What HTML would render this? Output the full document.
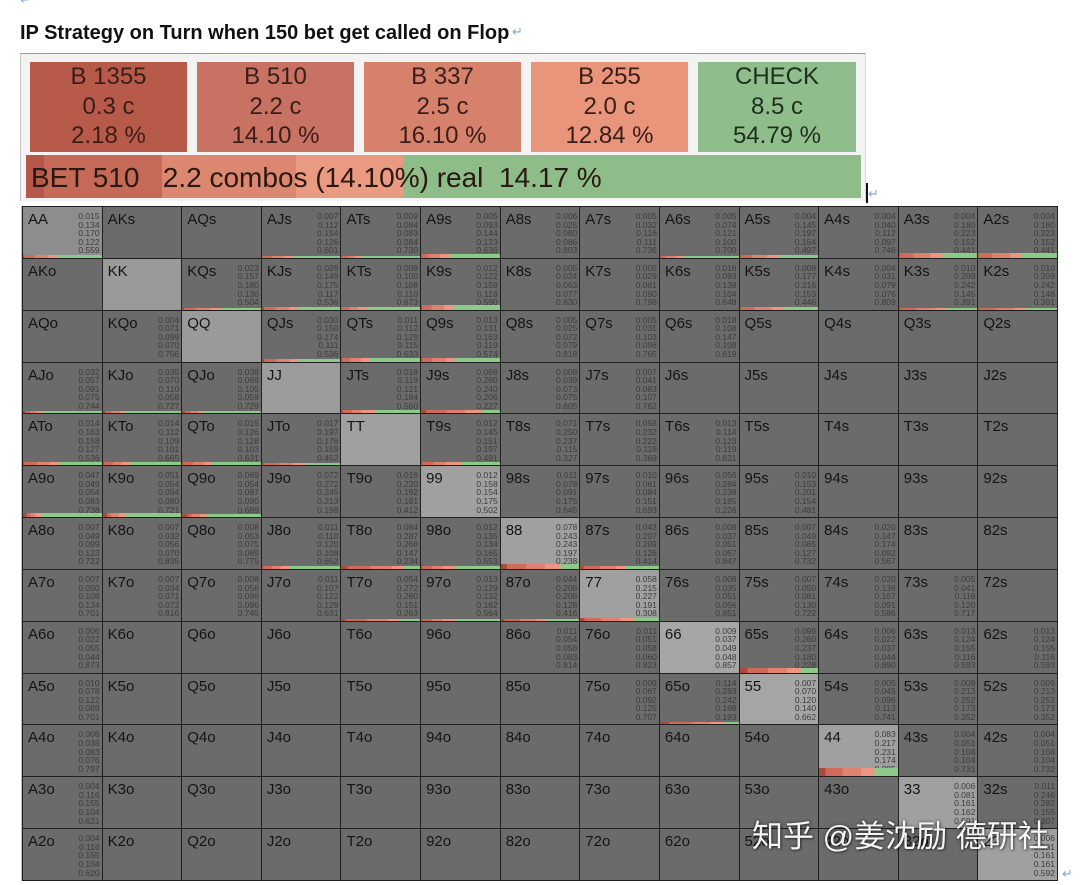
<!DOCTYPE html>
<html><head><meta charset="utf-8">
<style>
html,body{margin:0;padding:0;background:#fff;}
body{width:1080px;height:885px;position:relative;overflow:hidden;font-family:"Liberation Sans",sans-serif;}
.ret{position:absolute;color:#7ea9d9;font:13px/14px "DejaVu Sans",sans-serif;}
.title{position:absolute;left:20px;top:21px;font:bold 20px/24px "Liberation Sans",sans-serif;color:#111;white-space:nowrap;}
.panel{position:absolute;left:20px;top:53px;width:846px;height:148px;background:#f3f3f3;border-top:1px solid #9a9a9a;border-left:1px solid #c4c4c4;border-right:1px solid #d8d8d8;box-sizing:border-box;}
.box{position:absolute;top:62px;height:90px;width:157px;text-align:center;font:24px/29.5px "Liberation Sans",sans-serif;color:#3a1d17;}
.bar{position:absolute;left:26px;top:155px;width:835px;height:43px;background:linear-gradient(90deg,#b5574a 0 18px,#c66a58 0 136px,#dc8770 0 270px,#ea9a80 0 377px,#8fbd89 0);}
.bartxt{position:absolute;left:31px;top:156px;font:28px/43px "Liberation Sans",sans-serif;color:#2a1812;white-space:pre;}
.cursor{position:absolute;left:866px;top:183px;width:2px;height:20px;background:#111;}
.g{position:absolute;left:21px;top:206px;width:1037px;height:675px;background:#1f1f1f;padding:1px;box-sizing:border-box;display:grid;grid-template-columns:repeat(13,1fr);grid-template-rows:repeat(13,1fr);gap:1px;border-left:1px solid #bdbdbd;}
.g>div{position:relative;background:#6b6b6b;overflow:hidden;}
.g>div.p{background:#a0a0a0;}
.g b{position:absolute;left:5px;top:4px;font:15px/18px "Liberation Sans",sans-serif;color:#141414;font-weight:normal;}
.g i{position:absolute;right:2px;top:5px;font:8.5px/8.6px "Liberation Sans",sans-serif;color:#3c3c3c;font-style:normal;text-align:right;}
.g u{position:absolute;left:0;right:0;bottom:0;height:3px;text-decoration:none;}
.wm{position:absolute;left:752px;top:821px;font:31px/32px "Liberation Sans","Noto Sans CJK SC",sans-serif;color:rgba(255,255,255,0.95);text-shadow:0 0 3px rgba(0,0,0,0.55),1px 1px 2px rgba(0,0,0,0.4);white-space:pre;}
</style></head>
<body>
<div class="ret" style="left:20px;top:-6px;">↵</div>
<div class="title">IP Strategy on Turn when 150 bet get called on Flop</div>
<div class="ret" style="left:512px;top:26px;">↵</div>

<div class="panel"></div>
<div class="box" style="left:30px;background:#b85a49;">B 1355<br>0.3 c<br>2.18 %</div>
<div class="box" style="left:197px;background:#c77262;">B 510<br>2.2 c<br>14.10 %</div>
<div class="box" style="left:364px;background:#d6816b;">B 337<br>2.5 c<br>16.10 %</div>
<div class="box" style="left:531px;background:#e8957b;">B 255<br>2.0 c<br>12.84 %</div>
<div class="box" style="left:698px;width:158px;background:#90bd8c;color:#1e2f1e;">CHECK<br>8.5 c<br>54.79 %</div>
<div class="bar"></div>
<div class="bartxt">BET 510   2.2 combos (14.10%) real  14.17 %</div>
<div class="cursor"></div>
<div class="ret" style="left:868px;top:188px;">↵</div>

<div class="g">
<!-- Row A -->
<div class="p" style="background:#8d8d8d"><b>AA</b><i>0.015<br>0.134<br>0.170<br>0.122<br>0.559</i><u style="height:3px;background:linear-gradient(90deg,#a84a3c 0 1.5%,#d06a5a 0 14.9%,#e08070 0 31.9%,#eb9683 0 44.1%,#8cc98a 0)"></u></div>
<div><b>AKs</b></div>
<div><b>AQs</b></div>
<div><b>AJs</b><i>0.007<br>0.112<br>0.154<br>0.126<br>0.601</i><u style="height:2px;background:linear-gradient(90deg,#a84a3c 0 0.7%,#d06a5a 0 11.9%,#e08070 0 27.3%,#eb9683 0 39.9%,#8cc98a 0)"></u></div>
<div><b>ATs</b><i>0.009<br>0.084<br>0.083<br>0.084<br>0.730</i><u style="height:2px;background:linear-gradient(90deg,#a84a3c 0 0.9%,#d06a5a 0 9.3%,#e08070 0 17.6%,#eb9683 0 26%,#8cc98a 0)"></u></div>
<div><b>A9s</b><i>0.005<br>0.093<br>0.144<br>0.123<br>0.636</i><u style="height:4px;background:linear-gradient(90deg,#a84a3c 0 0.5%,#d06a5a 0 9.8%,#e08070 0 24.2%,#eb9683 0 36.5%,#8cc98a 0)"></u></div>
<div><b>A8s</b><i>0.006<br>0.025<br>0.080<br>0.086<br>0.803</i></div>
<div><b>A7s</b><i>0.005<br>0.032<br>0.116<br>0.111<br>0.736</i></div>
<div><b>A6s</b><i>0.005<br>0.074<br>0.121<br>0.100<br>0.700</i><u style="height:2px;background:linear-gradient(90deg,#a84a3c 0 0.5%,#d06a5a 0 7.9%,#e08070 0 20%,#eb9683 0 30%,#8cc98a 0)"></u></div>
<div><b>A5s</b><i>0.004<br>0.145<br>0.197<br>0.154<br>0.497</i><u style="height:3px;background:linear-gradient(90deg,#a84a3c 0 0.4%,#d06a5a 0 14.9%,#e08070 0 34.6%,#eb9683 0 50%,#8cc98a 0)"></u></div>
<div><b>A4s</b><i>0.004<br>0.040<br>0.112<br>0.097<br>0.746</i></div>
<div><b>A3s</b><i>0.004<br>0.180<br>0.223<br>0.152<br>0.441</i><u style="height:5px;background:linear-gradient(90deg,#a84a3c 0 0.4%,#d06a5a 0 18.4%,#e08070 0 40.7%,#eb9683 0 55.9%,#8cc98a 0)"></u></div>
<div><b>A2s</b><i>0.004<br>0.180<br>0.223<br>0.152<br>0.441</i><u style="height:5px;background:linear-gradient(90deg,#a84a3c 0 0.4%,#d06a5a 0 18.4%,#e08070 0 40.7%,#eb9683 0 55.9%,#8cc98a 0)"></u></div>
<!-- Row K -->
<div><b>AKo</b></div>
<div class="p" style="background:#9a9a9a"><b>KK</b></div>
<div><b>KQs</b><i>0.023<br>0.157<br>0.180<br>0.136<br>0.504</i><u style="height:2px;background:linear-gradient(90deg,#a84a3c 0 2.3%,#d06a5a 0 18%,#e08070 0 36%,#eb9683 0 49.6%,#8cc98a 0)"></u></div>
<div><b>KJs</b><i>0.026<br>0.149<br>0.175<br>0.117<br>0.536</i><u style="height:3px;background:linear-gradient(90deg,#a84a3c 0 2.6%,#d06a5a 0 17.5%,#e08070 0 35%,#eb9683 0 46.7%,#8cc98a 0)"></u></div>
<div><b>KTs</b><i>0.009<br>0.100<br>0.108<br>0.110<br>0.673</i><u style="height:3px;background:linear-gradient(90deg,#a84a3c 0 0.9%,#d06a5a 0 10.9%,#e08070 0 21.7%,#eb9683 0 32.7%,#8cc98a 0)"></u></div>
<div><b>K9s</b><i>0.012<br>0.122<br>0.159<br>0.118<br>0.590</i><u style="height:5px;background:linear-gradient(90deg,#a84a3c 0 1.2%,#d06a5a 0 13.4%,#e08070 0 29.3%,#eb9683 0 41.1%,#8cc98a 0)"></u></div>
<div><b>K8s</b><i>0.005<br>0.024<br>0.063<br>0.077<br>0.830</i></div>
<div><b>K7s</b><i>0.005<br>0.029<br>0.081<br>0.090<br>0.798</i></div>
<div><b>K6s</b><i>0.016<br>0.093<br>0.138<br>0.104<br>0.648</i></div>
<div><b>K5s</b><i>0.009<br>0.177<br>0.216<br>0.153<br>0.446</i><u style="height:3px;background:linear-gradient(90deg,#a84a3c 0 0.9%,#d06a5a 0 18.6%,#e08070 0 40.2%,#eb9683 0 55.5%,#8cc98a 0)"></u></div>
<div><b>K4s</b><i>0.004<br>0.031<br>0.079<br>0.076<br>0.809</i></div>
<div><b>K3s</b><i>0.010<br>0.209<br>0.242<br>0.145<br>0.391</i><u style="height:2px;background:linear-gradient(90deg,#a84a3c 0 1%,#d06a5a 0 21.9%,#e08070 0 46.1%,#eb9683 0 60.9%,#8cc98a 0)"></u></div>
<div><b>K2s</b><i>0.010<br>0.209<br>0.242<br>0.148<br>0.391</i><u style="height:2px;background:linear-gradient(90deg,#a84a3c 0 1%,#d06a5a 0 21.9%,#e08070 0 46.1%,#eb9683 0 60.9%,#8cc98a 0)"></u></div>
<!-- Row Q -->
<div><b>AQo</b></div>
<div><b>KQo</b><i>0.004<br>0.071<br>0.099<br>0.070<br>0.756</i></div>
<div class="p" style="background:#9a9a9a"><b>QQ</b></div>
<div><b>QJs</b><i>0.030<br>0.150<br>0.174<br>0.111<br>0.536</i><u style="height:3px;background:linear-gradient(90deg,#a84a3c 0 3%,#d06a5a 0 18%,#e08070 0 35.4%,#eb9683 0 46.5%,#8cc98a 0)"></u></div>
<div><b>QTs</b><i>0.011<br>0.112<br>0.129<br>0.115<br>0.633</i><u style="height:4px;background:linear-gradient(90deg,#a84a3c 0 1.1%,#d06a5a 0 12.3%,#e08070 0 25.2%,#eb9683 0 36.7%,#8cc98a 0)"></u></div>
<div><b>Q9s</b><i>0.013<br>0.131<br>0.163<br>0.119<br>0.574</i><u style="height:4px;background:linear-gradient(90deg,#a84a3c 0 1.3%,#d06a5a 0 14.4%,#e08070 0 30.7%,#eb9683 0 42.6%,#8cc98a 0)"></u></div>
<div><b>Q8s</b><i>0.005<br>0.025<br>0.072<br>0.079<br>0.818</i></div>
<div><b>Q7s</b><i>0.005<br>0.031<br>0.103<br>0.096<br>0.765</i></div>
<div><b>Q6s</b><i>0.018<br>0.108<br>0.147<br>0.108<br>0.619</i></div>
<div><b>Q5s</b></div>
<div><b>Q4s</b></div>
<div><b>Q3s</b></div>
<div><b>Q2s</b></div>
<!-- Row J -->
<div><b>AJo</b><i>0.032<br>0.057<br>0.091<br>0.075<br>0.744</i><u style="height:2px;background:linear-gradient(90deg,#a84a3c 0 3.2%,#d06a5a 0 8.9%,#e08070 0 18%,#eb9683 0 25.5%,#8cc98a 0)"></u></div>
<div><b>KJo</b><i>0.035<br>0.070<br>0.110<br>0.058<br>0.727</i><u style="height:2px;background:linear-gradient(90deg,#a84a3c 0 3.5%,#d06a5a 0 10.5%,#e08070 0 21.5%,#eb9683 0 27.3%,#8cc98a 0)"></u></div>
<div><b>QJo</b><i>0.038<br>0.069<br>0.105<br>0.059<br>0.729</i><u style="height:2px;background:linear-gradient(90deg,#a84a3c 0 3.8%,#d06a5a 0 10.7%,#e08070 0 21.2%,#eb9683 0 27.1%,#8cc98a 0)"></u></div>
<div class="p" style="background:#9c9c9c"><b>JJ</b></div>
<div><b>JTs</b><i>0.018<br>0.119<br>0.121<br>0.184<br>0.560</i><u style="height:3px;background:linear-gradient(90deg,#a84a3c 0 1.8%,#d06a5a 0 13.7%,#e08070 0 25.8%,#eb9683 0 44.2%,#8cc98a 0)"></u></div>
<div><b>J9s</b><i>0.066<br>0.260<br>0.240<br>0.206<br>0.227</i><u style="height:3px;background:linear-gradient(90deg,#a84a3c 0 6.6%,#d06a5a 0 32.6%,#e08070 0 56.6%,#eb9683 0 77.2%,#8cc98a 0)"></u></div>
<div><b>J8s</b><i>0.008<br>0.039<br>0.073<br>0.075<br>0.805</i></div>
<div><b>J7s</b><i>0.007<br>0.041<br>0.083<br>0.107<br>0.762</i></div>
<div><b>J6s</b></div>
<div><b>J5s</b></div>
<div><b>J4s</b></div>
<div><b>J3s</b></div>
<div><b>J2s</b></div>
<!-- Row T -->
<div><b>ATo</b><i>0.014<br>0.163<br>0.158<br>0.127<br>0.536</i><u style="height:3px;background:linear-gradient(90deg,#a84a3c 0 1.4%,#d06a5a 0 17.7%,#e08070 0 33.5%,#eb9683 0 46.2%,#8cc98a 0)"></u></div>
<div><b>KTo</b><i>0.014<br>0.112<br>0.109<br>0.101<br>0.665</i><u style="height:3px;background:linear-gradient(90deg,#a84a3c 0 1.4%,#d06a5a 0 12.6%,#e08070 0 23.5%,#eb9683 0 33.6%,#8cc98a 0)"></u></div>
<div><b>QTo</b><i>0.015<br>0.126<br>0.128<br>0.103<br>0.631</i><u style="height:3px;background:linear-gradient(90deg,#a84a3c 0 1.5%,#d06a5a 0 14.1%,#e08070 0 26.9%,#eb9683 0 37.2%,#8cc98a 0)"></u></div>
<div><b>JTo</b><i>0.017<br>0.197<br>0.176<br>0.159<br>0.452</i><u style="height:2px;background:linear-gradient(90deg,#a84a3c 0 1.7%,#d06a5a 0 21.4%,#e08070 0 39%,#eb9683 0 54.9%,#8cc98a 0)"></u></div>
<div class="p"><b>TT</b></div>
<div><b>T9s</b><i>0.012<br>0.145<br>0.151<br>0.197<br>0.491</i><u style="height:3px;background:linear-gradient(90deg,#a84a3c 0 1.2%,#d06a5a 0 15.7%,#e08070 0 30.8%,#eb9683 0 50.5%,#8cc98a 0)"></u></div>
<div><b>T8s</b><i>0.071<br>0.250<br>0.237<br>0.115<br>0.327</i></div>
<div><b>T7s</b><i>0.058<br>0.232<br>0.222<br>0.118<br>0.369</i></div>
<div><b>T6s</b><i>0.013<br>0.114<br>0.123<br>0.119<br>0.631</i></div>
<div><b>T5s</b></div>
<div><b>T4s</b></div>
<div><b>T3s</b></div>
<div><b>T2s</b></div>
<!-- Row 9 -->
<div><b>A9o</b><i>0.047<br>0.049<br>0.054<br>0.083<br>0.738</i><u style="height:4px;background:linear-gradient(90deg,#a84a3c 0 4.7%,#d06a5a 0 9.6%,#e08070 0 15%,#eb9683 0 23.3%,#8cc98a 0)"></u></div>
<div><b>K9o</b><i>0.051<br>0.054<br>0.094<br>0.080<br>0.721</i><u style="height:4px;background:linear-gradient(90deg,#a84a3c 0 5.1%,#d06a5a 0 10.5%,#e08070 0 19.9%,#eb9683 0 27.9%,#8cc98a 0)"></u></div>
<div><b>Q9o</b><i>0.069<br>0.054<br>0.097<br>0.090<br>0.689</i><u style="height:3px;background:linear-gradient(90deg,#a84a3c 0 6.9%,#d06a5a 0 12.3%,#e08070 0 22%,#eb9683 0 31%,#8cc98a 0)"></u></div>
<div><b>J9o</b><i>0.072<br>0.272<br>0.245<br>0.213<br>0.198</i></div>
<div><b>T9o</b><i>0.016<br>0.220<br>0.192<br>0.181<br>0.412</i></div>
<div class="p"><b>99</b><i>0.012<br>0.158<br>0.154<br>0.175<br>0.502</i></div>
<div><b>98s</b><i>0.011<br>0.078<br>0.091<br>0.175<br>0.645</i></div>
<div><b>97s</b><i>0.010<br>0.061<br>0.084<br>0.151<br>0.693</i></div>
<div><b>96s</b><i>0.056<br>0.284<br>0.238<br>0.185<br>0.226</i></div>
<div><b>95s</b><i>0.010<br>0.153<br>0.201<br>0.154<br>0.481</i></div>
<div><b>94s</b></div>
<div><b>93s</b></div>
<div><b>92s</b></div>
<!-- Row 8 -->
<div><b>A8o</b><i>0.007<br>0.049<br>0.099<br>0.123<br>0.722</i></div>
<div><b>K8o</b><i>0.007<br>0.032<br>0.056<br>0.070<br>0.835</i></div>
<div><b>Q8o</b><i>0.008<br>0.053<br>0.075<br>0.089<br>0.775</i></div>
<div><b>J8o</b><i>0.011<br>0.110<br>0.120<br>0.108<br>0.652</i><u style="height:3px;background:linear-gradient(90deg,#a84a3c 0 1.1%,#d06a5a 0 12.1%,#e08070 0 24.1%,#eb9683 0 34.9%,#8cc98a 0)"></u></div>
<div><b>T8o</b><i>0.084<br>0.287<br>0.268<br>0.147<br>0.234</i><u style="height:3px;background:linear-gradient(90deg,#a84a3c 0 8.4%,#d06a5a 0 37.1%,#e08070 0 63.9%,#eb9683 0 78.6%,#8cc98a 0)"></u></div>
<div><b>98o</b><i>0.012<br>0.135<br>0.134<br>0.165<br>0.553</i><u style="height:3px;background:linear-gradient(90deg,#a84a3c 0 1.2%,#d06a5a 0 14.7%,#e08070 0 28.1%,#eb9683 0 44.6%,#8cc98a 0)"></u></div>
<div class="p"><b>88</b><i>0.078<br>0.243<br>0.243<br>0.197<br>0.238</i><u style="height:5px;background:linear-gradient(90deg,#a84a3c 0 7.8%,#d06a5a 0 32.1%,#e08070 0 56.4%,#eb9683 0 76.1%,#8cc98a 0)"></u></div>
<div><b>87s</b><i>0.043<br>0.207<br>0.209<br>0.126<br>0.414</i><u style="height:3px;background:linear-gradient(90deg,#a84a3c 0 4.3%,#d06a5a 0 25%,#e08070 0 45.9%,#eb9683 0 58.5%,#8cc98a 0)"></u></div>
<div><b>86s</b><i>0.008<br>0.037<br>0.051<br>0.057<br>0.847</i></div>
<div><b>85s</b><i>0.007<br>0.049<br>0.085<br>0.127<br>0.732</i></div>
<div><b>84s</b><i>0.020<br>0.147<br>0.174<br>0.092<br>0.567</i></div>
<div><b>83s</b></div>
<div><b>82s</b></div>
<!-- Row 7 -->
<div><b>A7o</b><i>0.007<br>0.050<br>0.108<br>0.134<br>0.701</i></div>
<div><b>K7o</b><i>0.007<br>0.034<br>0.071<br>0.072<br>0.816</i></div>
<div><b>Q7o</b><i>0.008<br>0.056<br>0.096<br>0.096<br>0.745</i></div>
<div><b>J7o</b><i>0.011<br>0.107<br>0.122<br>0.129<br>0.631</i></div>
<div><b>T7o</b><i>0.054<br>0.272<br>0.260<br>0.151<br>0.263</i><u style="height:2px;background:linear-gradient(90deg,#a84a3c 0 5.4%,#d06a5a 0 32.6%,#e08070 0 58.6%,#eb9683 0 73.7%,#8cc98a 0)"></u></div>
<div><b>97o</b><i>0.013<br>0.129<br>0.132<br>0.162<br>0.564</i><u style="height:2px;background:linear-gradient(90deg,#a84a3c 0 1.3%,#d06a5a 0 14.2%,#e08070 0 27.4%,#eb9683 0 43.6%,#8cc98a 0)"></u></div>
<div><b>87o</b><i>0.044<br>0.206<br>0.206<br>0.128<br>0.416</i><u style="height:2px;background:linear-gradient(90deg,#a84a3c 0 4.4%,#d06a5a 0 25%,#e08070 0 45.6%,#eb9683 0 58.4%,#8cc98a 0)"></u></div>
<div class="p"><b>77</b><i>0.058<br>0.215<br>0.227<br>0.191<br>0.308</i><u style="height:3px;background:linear-gradient(90deg,#a84a3c 0 5.8%,#d06a5a 0 27.3%,#e08070 0 50%,#eb9683 0 69.1%,#8cc98a 0)"></u></div>
<div><b>76s</b><i>0.008<br>0.035<br>0.051<br>0.056<br>0.851</i></div>
<div><b>75s</b><i>0.007<br>0.050<br>0.081<br>0.130<br>0.722</i></div>
<div><b>74s</b><i>0.020<br>0.136<br>0.167<br>0.091<br>0.586</i></div>
<div><b>73s</b><i>0.005<br>0.041<br>0.116<br>0.120<br>0.717</i></div>
<div><b>72s</b></div>
<!-- Row 6 -->
<div><b>A6o</b><i>0.006<br>0.022<br>0.055<br>0.044<br>0.873</i></div>
<div><b>K6o</b></div>
<div><b>Q6o</b></div>
<div><b>J6o</b></div>
<div><b>T6o</b></div>
<div><b>96o</b></div>
<div><b>86o</b><i>0.011<br>0.054<br>0.058<br>0.083<br>0.814</i></div>
<div><b>76o</b><i>0.011<br>0.051<br>0.058<br>0.060<br>0.823</i></div>
<div class="p" style="background:#a6a6a6"><b>66</b><i>0.009<br>0.037<br>0.049<br>0.048<br>0.857</i></div>
<div><b>65s</b><i>0.096<br>0.260<br>0.237<br>0.180<br>0.228</i><u style="height:5px;background:linear-gradient(90deg,#a84a3c 0 9.6%,#d06a5a 0 35.6%,#e08070 0 59.3%,#eb9683 0 77.3%,#8cc98a 0)"></u></div>
<div><b>64s</b><i>0.006<br>0.022<br>0.037<br>0.044<br>0.890</i></div>
<div><b>63s</b><i>0.013<br>0.124<br>0.155<br>0.116<br>0.593</i></div>
<div><b>62s</b><i>0.013<br>0.124<br>0.155<br>0.116<br>0.593</i></div>
<!-- Row 5 -->
<div><b>A5o</b><i>0.010<br>0.078<br>0.122<br>0.089<br>0.701</i></div>
<div><b>K5o</b></div>
<div><b>Q5o</b></div>
<div><b>J5o</b></div>
<div><b>T5o</b></div>
<div><b>95o</b></div>
<div><b>85o</b></div>
<div><b>75o</b><i>0.009<br>0.067<br>0.092<br>0.125<br>0.707</i></div>
<div><b>65o</b><i>0.114<br>0.283<br>0.242<br>0.168<br>0.193</i><u style="height:2px;background:linear-gradient(90deg,#a84a3c 0 11.4%,#d06a5a 0 39.7%,#e08070 0 63.9%,#eb9683 0 80.7%,#8cc98a 0)"></u></div>
<div class="p" style="background:#a5a5a5"><b>55</b><i>0.007<br>0.070<br>0.120<br>0.140<br>0.662</i></div>
<div><b>54s</b><i>0.005<br>0.045<br>0.096<br>0.113<br>0.741</i></div>
<div><b>53s</b><i>0.009<br>0.213<br>0.252<br>0.173<br>0.352</i></div>
<div><b>52s</b><i>0.009<br>0.213<br>0.253<br>0.173<br>0.352</i></div>
<!-- Row 4 -->
<div><b>A4o</b><i>0.006<br>0.038<br>0.083<br>0.076<br>0.797</i></div>
<div><b>K4o</b></div>
<div><b>Q4o</b></div>
<div><b>J4o</b></div>
<div><b>T4o</b></div>
<div><b>94o</b></div>
<div><b>84o</b></div>
<div><b>74o</b></div>
<div><b>64o</b></div>
<div><b>54o</b></div>
<div class="p"><b>44</b><i>0.083<br>0.217<br>0.231<br>0.174<br>0.295</i><u style="height:8px;background:linear-gradient(90deg,#a84a3c 0 8.3%,#d06a5a 0 30%,#e08070 0 53.1%,#eb9683 0 70.5%,#8cc98a 0)"></u></div>
<div><b>43s</b><i>0.004<br>0.051<br>0.108<br>0.104<br>0.731</i></div>
<div><b>42s</b><i>0.004<br>0.051<br>0.108<br>0.104<br>0.732</i></div>
<!-- Row 3 -->
<div><b>A3o</b><i>0.004<br>0.116<br>0.155<br>0.104<br>0.621</i></div>
<div><b>K3o</b></div>
<div><b>Q3o</b></div>
<div><b>J3o</b></div>
<div><b>T3o</b></div>
<div><b>93o</b></div>
<div><b>83o</b></div>
<div><b>73o</b></div>
<div><b>63o</b></div>
<div><b>53o</b></div>
<div><b>43o</b></div>
<div class="p"><b>33</b><i>0.006<br>0.081<br>0.161<br>0.162<br>0.591</i></div>
<div><b>32s</b><i>0.011<br>0.246<br>0.282<br>0.155<br>0.307</i></div>
<!-- Row 2 -->
<div><b>A2o</b><i>0.004<br>0.116<br>0.155<br>0.104<br>0.620</i></div>
<div><b>K2o</b></div>
<div><b>Q2o</b></div>
<div><b>J2o</b></div>
<div><b>T2o</b></div>
<div><b>92o</b></div>
<div><b>82o</b></div>
<div><b>72o</b></div>
<div><b>62o</b></div>
<div><b>52o</b></div>
<div><b>42o</b></div>
<div><b>32o</b></div>
<div class="p"><b>22</b><i>0.006<br>0.081<br>0.161<br>0.161<br>0.592</i></div>
</div>

<div class="wm">知乎 @姜沈励 德研社</div>
<div class="ret" style="left:1062px;top:868px;">↵</div>
</body></html>
